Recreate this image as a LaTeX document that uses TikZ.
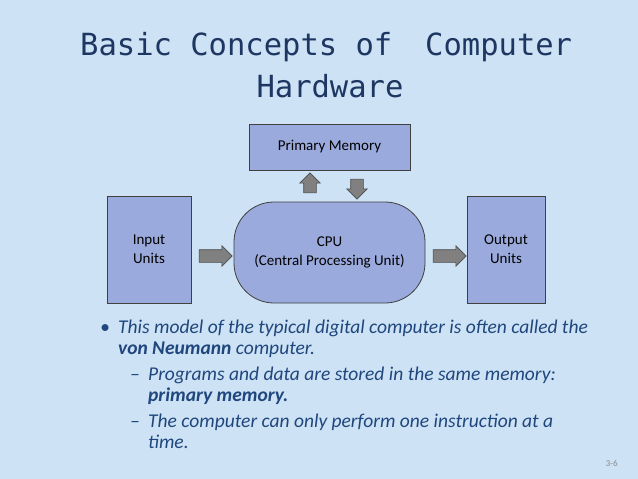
\documentclass[tikz,border=0pt]{standalone}
\usepackage{fontspec}
\setmainfont{Carlito}
\newfontfamily\titlefont{DejaVu Sans Mono}
\usetikzlibrary{shapes.arrows}
\definecolor{bg}{RGB}{205,226,244}
\definecolor{boxc}{RGB}{155,170,221}
\definecolor{titlec}{RGB}{30,55,98}
\definecolor{textc}{RGB}{31,70,125}
\tikzset{
  box/.style={draw=black!75,fill=boxc,line width=0.8pt,align=center,font=\fontsize{15}{19}\selectfont,inner sep=0pt},
  garrow/.style={single arrow,draw=black!70,fill=black!50,minimum height=33pt,single arrow head extend=4pt,inner sep=6pt,line width=0.6pt},
  bul/.style={anchor=base west,text=textc,font=\fontsize{19.5}{23}\selectfont\itshape,inner sep=0pt},
  ttl/.style={text=titlec,font=\titlefont\fontsize{30.5}{34}\selectfont,inner sep=0pt}
}
\begin{document}
\begin{tikzpicture}[x=1pt,y=-1pt]
\fill[bg] (0,0) rectangle (638,479);
\useasboundingbox (0,0) rectangle (638,479);
\node[ttl,anchor=base west] (t1) at (80,55) {Basic Concepts of};
\node[ttl,anchor=base west] (t2) at (425,55) {Computer};
\node[ttl,anchor=base] (t3) at (330,97) {Hardware};
\node[box,minimum width=161pt,minimum height=46pt] (pm) at (329.5,147) {Primary Memory};
\node[box,minimum width=84pt,minimum height=107pt] (in) at (149,249.5) {Input\\Units};
\node[box,minimum width=78pt,minimum height=107pt] (out) at (506,249.5) {Output\\Units};
\node[box,minimum width=191pt,minimum height=101pt,rounded corners=40pt] (cpu) at (329.5,252.5) {CPU\\(Central Processing Unit)};
\node[garrow,minimum height=20pt,shape border rotate=90] (au) at (310,186) {};
\node[garrow,minimum height=20pt,shape border rotate=270] (ad) at (357,186) {};
\node[garrow] (a1) at (212.5,256) {};
\node[garrow] (a2) at (446.5,256) {};
\node[bul] (b0) at (100,333) {\textbullet};
\node[bul] (b1) at (118,333) {This model of the typical digital computer is often called the};
\node[bul] (b2) at (118,354) {\textbf{von Neumann} computer.};
\node[bul] (b3) at (130,380) {\textendash};
\node[bul] (b4) at (148,380) {Programs and data are stored in the same memory:};
\node[bul] (b5) at (148,401) {\textbf{primary memory.}};
\node[bul] (b6) at (130,427) {\textendash};
\node[bul] (b7) at (148,427) {The computer can only perform one instruction at a};
\node[bul] (b8) at (148,448) {time.};
\node[anchor=base east,text=black!45,font=\fontsize{9}{10}\selectfont,inner sep=0pt] (pg) at (618,466) {3-6};
\end{tikzpicture}
\end{document}
